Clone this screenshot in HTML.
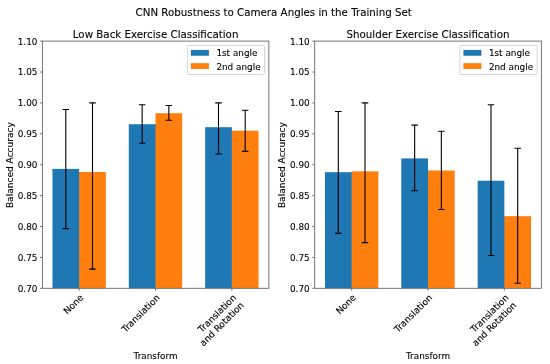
<!DOCTYPE html>
<html><head><meta charset="utf-8"><title>CNN Robustness to Camera Angles</title>
<style>html,body{margin:0;padding:0;background:#fff;width:550px;height:364px;overflow:hidden}</style>
</head><body>
<svg width="550" height="364" viewBox="0 0 550 364" style="display:block">
<style>text{stroke:#000;stroke-width:0.1px;fill:#000}</style>
<rect width="550" height="364" fill="#fff"/>
<text x="273.7" y="15.8" font-size="10.27" text-anchor="middle" font-family="'DejaVu Sans', 'Liberation Sans', sans-serif" fill="#000">CNN Robustness to Camera Angles in the Training Set</text>
<rect x="52.45" y="168.90" width="26.7" height="119.40" fill="#1f77b4"/>
<rect x="78.65" y="171.99" width="1.2" height="116.31" fill="#1f77b4"/>
<rect x="79.15" y="171.99" width="26.7" height="116.31" fill="#ff7f0e"/>
<rect x="128.80" y="124.22" width="26.7" height="164.08" fill="#1f77b4"/>
<rect x="155.00" y="124.22" width="1.2" height="164.08" fill="#1f77b4"/>
<rect x="155.50" y="113.22" width="26.7" height="175.08" fill="#ff7f0e"/>
<rect x="205.15" y="127.19" width="26.7" height="161.11" fill="#1f77b4"/>
<rect x="231.35" y="130.71" width="1.2" height="157.59" fill="#1f77b4"/>
<rect x="231.85" y="130.71" width="26.7" height="157.59" fill="#ff7f0e"/>
<path d="M65.80 228.60V109.51M62.55 228.60H69.05M62.55 109.51H69.05" stroke="#000" stroke-width="1.1" fill="none"/>
<path d="M92.50 269.08V102.90M89.25 269.08H95.75M89.25 102.90H95.75" stroke="#000" stroke-width="1.1" fill="none"/>
<path d="M142.15 143.19V104.69M138.90 143.19H145.40M138.90 104.69H145.40" stroke="#000" stroke-width="1.1" fill="none"/>
<path d="M168.85 120.20V105.50M165.60 120.20H172.10M165.60 105.50H172.10" stroke="#000" stroke-width="1.1" fill="none"/>
<path d="M218.50 154.07V102.90M215.25 154.07H221.75M215.25 102.90H221.75" stroke="#000" stroke-width="1.1" fill="none"/>
<path d="M245.20 151.41V110.19M241.95 151.41H248.45M241.95 110.19H248.45" stroke="#000" stroke-width="1.1" fill="none"/>
<rect x="42.40" y="41.10" width="226.45" height="247.20" fill="none" stroke="#666" stroke-width="0.9"/>
<path d="M40.00 288.30H42.40" stroke="#666" stroke-width="0.9"/>
<text x="37.40" y="291.70" font-size="8.85" text-anchor="end" font-family="'DejaVu Sans', 'Liberation Sans', sans-serif">0.70</text>
<path d="M40.00 257.40H42.40" stroke="#666" stroke-width="0.9"/>
<text x="37.40" y="260.80" font-size="8.85" text-anchor="end" font-family="'DejaVu Sans', 'Liberation Sans', sans-serif">0.75</text>
<path d="M40.00 226.50H42.40" stroke="#666" stroke-width="0.9"/>
<text x="37.40" y="229.90" font-size="8.85" text-anchor="end" font-family="'DejaVu Sans', 'Liberation Sans', sans-serif">0.80</text>
<path d="M40.00 195.60H42.40" stroke="#666" stroke-width="0.9"/>
<text x="37.40" y="199.00" font-size="8.85" text-anchor="end" font-family="'DejaVu Sans', 'Liberation Sans', sans-serif">0.85</text>
<path d="M40.00 164.70H42.40" stroke="#666" stroke-width="0.9"/>
<text x="37.40" y="168.10" font-size="8.85" text-anchor="end" font-family="'DejaVu Sans', 'Liberation Sans', sans-serif">0.90</text>
<path d="M40.00 133.80H42.40" stroke="#666" stroke-width="0.9"/>
<text x="37.40" y="137.20" font-size="8.85" text-anchor="end" font-family="'DejaVu Sans', 'Liberation Sans', sans-serif">0.95</text>
<path d="M40.00 102.90H42.40" stroke="#666" stroke-width="0.9"/>
<text x="37.40" y="106.30" font-size="8.85" text-anchor="end" font-family="'DejaVu Sans', 'Liberation Sans', sans-serif">1.00</text>
<path d="M40.00 72.00H42.40" stroke="#666" stroke-width="0.9"/>
<text x="37.40" y="75.40" font-size="8.85" text-anchor="end" font-family="'DejaVu Sans', 'Liberation Sans', sans-serif">1.05</text>
<path d="M40.00 41.10H42.40" stroke="#666" stroke-width="0.9"/>
<text x="37.40" y="44.50" font-size="8.85" text-anchor="end" font-family="'DejaVu Sans', 'Liberation Sans', sans-serif">1.10</text>
<path d="M79.15 288.30V290.70" stroke="#666" stroke-width="0.9"/>
<text transform="translate(79.15,293.30) rotate(-45)" y="6.88" font-size="9.05" text-anchor="end" font-family="'DejaVu Sans', 'Liberation Sans', sans-serif"><tspan x="0" dy="0.00">None</tspan></text>
<path d="M155.50 288.30V290.70" stroke="#666" stroke-width="0.9"/>
<text transform="translate(155.50,293.30) rotate(-45)" y="6.88" font-size="9.05" text-anchor="end" font-family="'DejaVu Sans', 'Liberation Sans', sans-serif"><tspan x="0" dy="0.00">Translation</tspan></text>
<path d="M231.85 288.30V290.70" stroke="#666" stroke-width="0.9"/>
<text transform="translate(231.85,293.30) rotate(-45)" y="6.88" font-size="9.05" text-anchor="end" font-family="'DejaVu Sans', 'Liberation Sans', sans-serif"><tspan x="0" dy="0.00">Translation</tspan><tspan x="0" dy="10.86">and Rotation</tspan></text>
<text x="155.62" y="358.7" font-size="8.85" text-anchor="middle" font-family="'DejaVu Sans', 'Liberation Sans', sans-serif">Transform</text>
<text transform="translate(13.10,165.10) rotate(-90)" font-size="9.05" text-anchor="middle" font-family="'DejaVu Sans', 'Liberation Sans', sans-serif">Balanced Accuracy</text>
<text x="155.62" y="37.8" font-size="10.27" text-anchor="middle" font-family="'DejaVu Sans', 'Liberation Sans', sans-serif">Low Back Exercise Classification</text>
<rect x="187.30" y="45.35" width="77.3" height="29.1" rx="1.7" fill="#fff" fill-opacity="0.8" stroke="#ccc" stroke-width="0.85"/>
<rect x="190.90" y="49.95" width="18" height="5.8" fill="#1f77b4"/>
<text x="216.40" y="56.35" font-size="8.85" font-family="'DejaVu Sans', 'Liberation Sans', sans-serif">1st angle</text>
<rect x="190.90" y="63.15" width="18" height="5.8" fill="#ff7f0e"/>
<text x="216.40" y="69.55" font-size="8.85" font-family="'DejaVu Sans', 'Liberation Sans', sans-serif">2nd angle</text>
<rect x="324.95" y="172.18" width="26.7" height="116.12" fill="#1f77b4"/>
<rect x="351.15" y="172.18" width="1.2" height="116.12" fill="#1f77b4"/>
<rect x="351.65" y="171.31" width="26.7" height="116.99" fill="#ff7f0e"/>
<rect x="401.30" y="158.40" width="26.7" height="129.90" fill="#1f77b4"/>
<rect x="427.50" y="170.51" width="1.2" height="117.79" fill="#1f77b4"/>
<rect x="428.00" y="170.51" width="26.7" height="117.79" fill="#ff7f0e"/>
<rect x="477.65" y="180.71" width="26.7" height="107.59" fill="#1f77b4"/>
<rect x="503.85" y="216.18" width="1.2" height="72.12" fill="#1f77b4"/>
<rect x="504.35" y="216.18" width="26.7" height="72.12" fill="#ff7f0e"/>
<path d="M338.30 233.42V111.43M335.05 233.42H341.55M335.05 111.43H341.55" stroke="#000" stroke-width="1.1" fill="none"/>
<path d="M365.00 242.63V102.90M361.75 242.63H368.25M361.75 102.90H368.25" stroke="#000" stroke-width="1.1" fill="none"/>
<path d="M414.65 190.72V125.09M411.40 190.72H417.90M411.40 125.09H417.90" stroke="#000" stroke-width="1.1" fill="none"/>
<path d="M441.35 209.50V131.20M438.10 209.50H444.60M438.10 131.20H444.60" stroke="#000" stroke-width="1.1" fill="none"/>
<path d="M491.00 255.48V104.75M487.75 255.48H494.25M487.75 104.75H494.25" stroke="#000" stroke-width="1.1" fill="none"/>
<path d="M517.70 283.29V148.20M514.45 283.29H520.95M514.45 148.20H520.95" stroke="#000" stroke-width="1.1" fill="none"/>
<rect x="314.70" y="41.10" width="226.65" height="247.20" fill="none" stroke="#666" stroke-width="0.9"/>
<path d="M312.30 288.30H314.70" stroke="#666" stroke-width="0.9"/>
<text x="309.70" y="291.70" font-size="8.85" text-anchor="end" font-family="'DejaVu Sans', 'Liberation Sans', sans-serif">0.70</text>
<path d="M312.30 257.40H314.70" stroke="#666" stroke-width="0.9"/>
<text x="309.70" y="260.80" font-size="8.85" text-anchor="end" font-family="'DejaVu Sans', 'Liberation Sans', sans-serif">0.75</text>
<path d="M312.30 226.50H314.70" stroke="#666" stroke-width="0.9"/>
<text x="309.70" y="229.90" font-size="8.85" text-anchor="end" font-family="'DejaVu Sans', 'Liberation Sans', sans-serif">0.80</text>
<path d="M312.30 195.60H314.70" stroke="#666" stroke-width="0.9"/>
<text x="309.70" y="199.00" font-size="8.85" text-anchor="end" font-family="'DejaVu Sans', 'Liberation Sans', sans-serif">0.85</text>
<path d="M312.30 164.70H314.70" stroke="#666" stroke-width="0.9"/>
<text x="309.70" y="168.10" font-size="8.85" text-anchor="end" font-family="'DejaVu Sans', 'Liberation Sans', sans-serif">0.90</text>
<path d="M312.30 133.80H314.70" stroke="#666" stroke-width="0.9"/>
<text x="309.70" y="137.20" font-size="8.85" text-anchor="end" font-family="'DejaVu Sans', 'Liberation Sans', sans-serif">0.95</text>
<path d="M312.30 102.90H314.70" stroke="#666" stroke-width="0.9"/>
<text x="309.70" y="106.30" font-size="8.85" text-anchor="end" font-family="'DejaVu Sans', 'Liberation Sans', sans-serif">1.00</text>
<path d="M312.30 72.00H314.70" stroke="#666" stroke-width="0.9"/>
<text x="309.70" y="75.40" font-size="8.85" text-anchor="end" font-family="'DejaVu Sans', 'Liberation Sans', sans-serif">1.05</text>
<path d="M312.30 41.10H314.70" stroke="#666" stroke-width="0.9"/>
<text x="309.70" y="44.50" font-size="8.85" text-anchor="end" font-family="'DejaVu Sans', 'Liberation Sans', sans-serif">1.10</text>
<path d="M351.65 288.30V290.70" stroke="#666" stroke-width="0.9"/>
<text transform="translate(351.65,293.30) rotate(-45)" y="6.88" font-size="9.05" text-anchor="end" font-family="'DejaVu Sans', 'Liberation Sans', sans-serif"><tspan x="0" dy="0.00">None</tspan></text>
<path d="M428.00 288.30V290.70" stroke="#666" stroke-width="0.9"/>
<text transform="translate(428.00,293.30) rotate(-45)" y="6.88" font-size="9.05" text-anchor="end" font-family="'DejaVu Sans', 'Liberation Sans', sans-serif"><tspan x="0" dy="0.00">Translation</tspan></text>
<path d="M504.35 288.30V290.70" stroke="#666" stroke-width="0.9"/>
<text transform="translate(504.35,293.30) rotate(-45)" y="6.88" font-size="9.05" text-anchor="end" font-family="'DejaVu Sans', 'Liberation Sans', sans-serif"><tspan x="0" dy="0.00">Translation</tspan><tspan x="0" dy="10.86">and Rotation</tspan></text>
<text x="428.02" y="358.7" font-size="8.85" text-anchor="middle" font-family="'DejaVu Sans', 'Liberation Sans', sans-serif">Transform</text>
<text transform="translate(285.40,165.10) rotate(-90)" font-size="9.05" text-anchor="middle" font-family="'DejaVu Sans', 'Liberation Sans', sans-serif">Balanced Accuracy</text>
<text x="428.02" y="37.8" font-size="10.27" text-anchor="middle" font-family="'DejaVu Sans', 'Liberation Sans', sans-serif">Shoulder Exercise Classification</text>
<rect x="459.80" y="45.35" width="77.3" height="29.1" rx="1.7" fill="#fff" fill-opacity="0.8" stroke="#ccc" stroke-width="0.85"/>
<rect x="463.40" y="49.95" width="18" height="5.8" fill="#1f77b4"/>
<text x="488.90" y="56.35" font-size="8.85" font-family="'DejaVu Sans', 'Liberation Sans', sans-serif">1st angle</text>
<rect x="463.40" y="63.15" width="18" height="5.8" fill="#ff7f0e"/>
<text x="488.90" y="69.55" font-size="8.85" font-family="'DejaVu Sans', 'Liberation Sans', sans-serif">2nd angle</text>
</svg>
</body></html>
